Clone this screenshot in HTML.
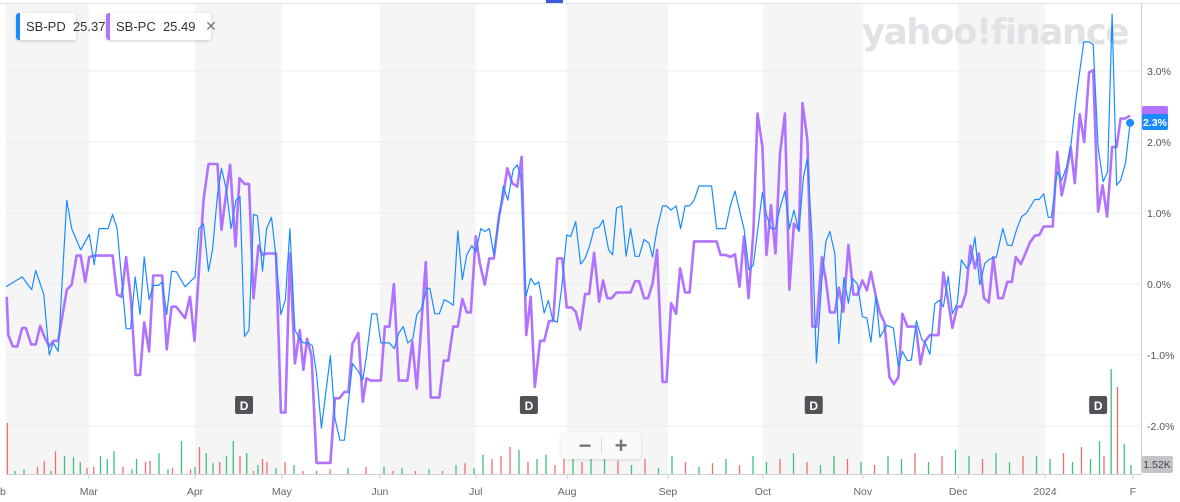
<!DOCTYPE html>
<html><head><meta charset="utf-8"><style>
html,body{margin:0;padding:0;background:#fff;width:1180px;height:502px;overflow:hidden;font-family:"Liberation Sans",sans-serif}
#wrap{position:relative;width:1180px;height:502px}
.chip{position:absolute;top:13px;height:27px;background:#fff;border-radius:3px;box-shadow:0 1px 3px rgba(0,0,0,.18);font-size:13px;color:#333;line-height:27px;padding-left:10px;padding-right:7px;white-space:nowrap}
.chip .bar{position:absolute;left:0;top:0;width:4px;height:27px;border-radius:3px 0 0 3px}
</style></head><body>
<div id="wrap">
<svg id="chart" width="1180" height="502" style="position:absolute;left:0;top:0"></svg>
<div class="chip" style="left:16px;width:43px"><span class="bar" style="background:#1a8cff"></span>SB-PD&nbsp; 25.37</div>
<div class="chip" style="left:106px;width:88px"><span class="bar" style="background:#b072ff"></span>SB-PC&nbsp; 25.49 <span style="color:#777;margin-left:6px;font-size:14px">✕</span></div>
<div style="position:absolute;left:561px;top:432px;width:80px;height:27px;background:#fafafa;border-radius:4px;box-shadow:0 1px 3px rgba(0,0,0,.12)">
<span style="position:absolute;left:10px;top:0;width:28px;line-height:27px;text-align:center;font-size:22px;font-weight:bold;color:#777">−</span>
<span style="position:absolute;left:40px;top:5px;width:1px;height:17px;background:#ddd"></span>
<span style="position:absolute;left:46px;top:0;width:28px;line-height:27px;text-align:center;font-size:22px;font-weight:bold;color:#777">+</span>
</div>
</div>
<script>
const tickLabels=["Mar","Apr","May","Jun","Jul","Aug","Sep","Oct","Nov","Dec","2024","F"];
const tickIdx=[18.4,42,61.3,83.1,104.4,124.7,147.1,168.2,190.4,211.6,230.9,250.4];
const yTicks=[-2,-1,0,1,2,3];
const divIdx=[52.9,116.2,179.5,242.7];
const pdIdx=[0,3.6,5.7,6.6,8.4,9.6,10.5,11.6,13.5,14.6,16.6,18.5,19.6,20.7,22.7,23.7,24.7,26.7,27.7,28.7,29.8,30.7,31.8,32.7,33.9,34.7,35.7,36.8,37.9,39.8,42,42.9,43.9,45,45.9,47,47.9,49,50,51.1,52,53,54,55,55.9,57,57.9,59,60,61.1,62.1,63.1,64.2,
65.3,66.1,67.2,68.1,69.0,70.1,72.1,73.1,74.2,75.2,77.0,78.3,79.3,80.1,81.3,82.4,83.3,85.2,86.3,87.3,88.3,89.3,90.4,91.3,92.4,93.5,94.2,95.3,96.3,97.4,98.3,99.4,100.4,101.4,102.4,103.5,104.4,105.5,106.4,107.4,108.4,109.6,110.5,111.5,112.7,113.6,114.4,115.5,116.6,117.5,118.4,119.6,120.5,121.5,122.5,123.5,124.6,125.5,126.6,127.7,128.7,129.8,130.7,131.8,
132.7,133.9,134.8,135.7,136.8,137.8,138.8,139.8,140.7,141.8,142.9,143.7,144.7,145.9,146.8,147.8,148.9,149.9,150.9,151.9,152.9,154,156.8,157.9,159.9,161,162,163,164,165.1,166.1,168.1,169,170,171,172,173.1,174.1,175.1,176.2,177.2,178.1,179.2,180.1,181.3,182.2,183.1,184.2,185.1,186.2,187.2,188.1,189.2,190.3,191.3,192.2,193.3,
194.2,195.7,197.2,198.3,199.2,200.3,201.2,202.3,203.5,204.3,205.3,206.4,207.4,208.3,209.4,210.3,211.4,212.3,213.5,214.3,215.3,216.4,217.5,218.6,220.1,221.5,222.5,223.5,224.6,225.7,226.8,228.6,229.6,230.6,231.6,232.3,233.6,234.6,235.7,236.6,237.9,239.5,240.7,241.6,242.7,243.8,244.8,245.8,246.8,247.7,248.8,249.8];
const pdVals=[-0.04,0.10,-0.08,0.19,-0.15,-1.0,-0.83,-0.95,1.18,0.78,0.48,0.70,0.27,0.78,0.78,0.98,0.78,-0.63,-0.63,0.10,-0.43,0.38,-0.22,-0.02,-0.02,0.03,-0.43,0.18,0.17,-0.04,0.10,0.78,0.85,0.18,0.48,1.26,1.63,1.32,0.78,1.18,1.23,-0.74,-0.65,0.98,0.96,0.18,0.78,0.94,0.38,-0.43,-0.22,0.78,-0.65,
-0.77,-0.83,-0.83,-0.87,-1.26,-2.03,-1.01,-1.89,-2.20,-2.20,-1.12,-1.23,-1.35,-1.02,-0.42,-0.42,-0.83,-0.83,-0.91,-0.69,-0.60,-0.83,-0.77,-0.43,-0.34,-0.06,-0.06,-0.42,-0.42,-0.22,-0.25,-0.30,0.75,0.06,0.41,0.54,0.45,0.78,0.74,0.78,0.41,0.95,1.38,1.18,1.61,1.68,1.51,-0.18,0.08,-0.01,0.03,-0.41,-0.23,-0.51,-0.54,-0.04,0.69,0.67,0.88,0.28,0.36,0.56,0.78,0.80,
0.90,0.48,0.41,1.07,1.10,0.39,0.78,0.39,0.39,0.63,0.57,0.38,0.78,1.10,1.10,1.04,1.10,0.78,1.10,1.10,1.18,1.38,1.38,0.78,0.78,1.11,1.31,1.04,0.78,0.20,0.27,1.29,0.97,0.78,0.78,1.07,1.31,0.78,1.04,0.74,1.50,1.77,0.57,-1.11,0.07,0.60,0.74,0.42,-0.84,0.09,-0.27,0.08,0.00,-0.46,-0.48,-0.82,-0.17,
-0.75,-0.58,-0.62,-1.17,-0.95,-1.08,-1.07,-0.52,-0.78,-0.83,-0.99,-0.28,-0.23,-0.32,0.11,-0.42,-0.27,0.34,0.22,0.29,0.66,-0.01,0.29,0.35,0.38,0.78,0.55,0.54,0.77,0.95,1.00,1.19,1.19,1.27,0.94,0.94,1.58,1.46,1.65,1.93,2.66,3.41,3.41,3.37,1.93,1.44,1.58,3.80,1.39,1.46,1.71,2.27];
const pcIdx=[0.15,0.5,1.5,2.5,3.6,4.4,5.6,6.6,7.6,8.5,9.6,10.5,11.6,13.5,14.6,15.7,16.6,17.6,18.5,19.6,23.7,24.7,25.7,26.7,27.8,28.8,29.8,30.7,31.8,32.7,34.7,35.7,36.8,37.8,39.8,40.9,41.9,42.9,43.9,45,47,47.9,49,49.8,51,51.9,53,54,55,56.1,57,57.9,60,61.1,62.1,63.1,64.2,
65.3,66.1,66.9,67.9,69.0,72.1,73.1,74.1,75.2,76.1,77.0,78.3,79.3,80.1,81.1,83.3,84.2,85.2,86.2,87.3,89.2,90.3,91.3,93.3,94.4,96.3,97.3,98.3,99.4,100.4,101.4,102.4,103.3,104.4,105.3,106.4,107.4,108.4,109.6,110.5,111.4,112.5,113.6,114.6,115.6,116.6,117.5,118.7,119.6,120.7,121.6,122.5,123.6,124.6,125.7,126.6,127.6,128.7,129.6,130.7,131.8,
132.7,133.6,134.6,135.7,138.8,139.8,140.7,141.8,142.7,143.7,144.7,145.9,146.8,147.8,148.9,149.8,150.9,151.9,152.9,157.9,158.8,159.9,161,162,163,164,165,166.1,167,168.1,169,170,171,172,173.1,174.1,175.1,176.2,177,178.1,179.2,180.1,181.3,182.2,183.1,184.2,185.1,186.1,187.2,188.3,189.2,190.3,191.3,192.2,193.3,
194.2,195.2,196.3,197.3,198.3,199.2,200.3,202.2,203.2,204.2,205.3,207.2,208.3,209.4,210.3,211.4,212.3,213.3,214.3,215.3,216.2,217.3,218.4,219.4,220.5,221.5,222.5,223.5,224.4,225.5,226.4,227.5,228.6,229.6,230.6,232.6,233.6,234.6,235.5,236.6,237.5,238.6,239.6,240.7,241.6,242.7,243.7,244.7,245.8,246.8,247.7,248.6,249.8];
const pcVals=[-0.18,-0.72,-0.88,-0.88,-0.62,-0.62,-0.85,-0.85,-0.59,-0.74,-0.88,-0.80,-0.80,-0.08,-0.01,0.40,0.40,0.03,0.38,0.40,0.40,-0.15,-0.18,0.38,-0.25,-1.28,-1.28,-0.54,-0.95,0.12,0.12,-0.92,-0.32,-0.32,-0.48,-0.18,-0.80,0.20,1.18,1.69,1.69,0.76,1.32,1.68,0.53,1.49,1.41,1.41,-0.20,0.54,0.41,0.43,0.43,-1.81,-1.81,0.43,-1.12,
-0.65,-1.21,-0.77,-1.02,-2.52,-2.52,-1.61,-1.61,-1.52,-1.52,-0.84,-0.69,-1.66,-1.33,-1.36,-1.36,-0.60,-0.60,0.00,-1.36,-1.36,-0.81,-1.47,0.31,-1.60,-1.60,-1.08,-1.08,-0.60,-0.60,-0.21,-0.40,-0.40,0.67,0.29,-0.01,0.36,0.36,0.97,1.25,1.63,1.42,1.37,1.79,-0.72,-0.18,-1.45,-0.80,-0.80,-0.52,-0.52,0.36,0.36,-0.33,-0.33,-0.39,-0.64,-0.14,-0.14,0.44,-0.25,
0.05,-0.20,-0.20,-0.12,-0.12,0.04,0.04,-0.20,-0.20,0.01,0.48,-1.38,-1.38,-0.27,-0.42,0.22,-0.12,-0.12,0.60,0.60,0.41,0.41,0.38,0.42,-0.04,0.67,-0.20,0.74,2.40,1.93,0.41,1.11,0.43,1.84,2.40,-0.08,0.85,0.76,2.55,2.03,-0.60,-0.60,0.38,0.05,-0.40,-0.40,-0.05,-0.39,0.55,-0.15,-0.15,0.05,-0.09,0.17,-0.18,
-0.41,-0.54,-1.31,-1.41,-1.31,-0.42,-0.60,-0.60,-1.13,-0.81,-0.72,-0.72,0.16,-0.25,-0.62,-0.32,-0.32,-0.13,0.54,0.22,0.43,-0.20,-0.26,0.38,-0.20,-0.20,0.03,0.03,0.38,0.28,0.41,0.58,0.68,0.69,0.81,0.81,1.86,1.25,1.51,1.93,1.42,2.39,2.00,2.98,3.01,1.02,1.39,0.95,1.93,1.93,2.33,2.33,2.37];
const volIdx=[0.3,2,4,7,8.5,10,11,13,15,16.5,18,19.5,21,22.5,24,26,28,29,31,32,34,36,37,39,41,42,43,44.5,46,47.5,49,50.5,52,53.5,55,56,57,58,60,62,64,66,69,72,76,80,84,86,88,91,94,97,100,102,104,106,108,110,112,114,116,118,120,122,124,126,128,130,133,136,139,142,145,148,151,154,157,160,163,166,169,172,175,178,181,184,187,190,193,196,199,202,205,208,211,214,217,220,223,226,229,232,235,237,239,241,243,244,245.6,247,248.5,250];
const volVals=[0.85,0.05,0.08,0.12,0.22,0.05,0.38,0.3,0.28,0.2,0.1,0.12,0.3,0.25,0.38,0.12,0.08,0.25,0.2,0.22,0.35,0.08,0.1,0.55,0.08,0.12,0.45,0.35,0.18,0.2,0.3,0.55,0.3,0.35,0.05,0.15,0.25,0.2,0.1,0.2,0.15,0.05,0.05,0.08,0.1,0.12,0.12,0.05,0.1,0.05,0.08,0.05,0.15,0.18,0.1,0.32,0.25,0.3,0.45,0.4,0.2,0.25,0.32,0.15,0.28,0.25,0.2,0.45,0.3,0.22,0.15,0.25,0.1,0.3,0.2,0.12,0.18,0.25,0.15,0.3,0.2,0.25,0.35,0.2,0.15,0.3,0.25,0.2,0.15,0.3,0.25,0.35,0.2,0.3,0.4,0.3,0.25,0.35,0.2,0.3,0.3,0.25,0.35,0.2,0.45,0.25,0.55,0.3,1.75,1.45,0.5,0.15];
const volUp=[0,1,1,0,0,1,0,1,1,1,0,0,1,1,1,0,1,1,0,0,1,1,0,1,0,1,0,1,1,0,1,1,0,1,0,1,0,0,1,0,1,0,1,0,1,0,1,0,1,0,1,0,1,0,1,1,0,0,0,1,0,1,1,0,0,1,0,1,1,0,1,0,1,1,0,1,0,1,0,1,1,0,1,0,1,1,0,1,0,1,1,0,1,0,1,1,0,1,1,0,1,1,0,1,0,1,1,0,1,0,1,1];

const X0=6,DX=4.5,Y0=284,PY=71,VB=474,VH=60;
const xS=i=>X0+i*DX, yS=p=>Y0-PY*p, vS=v=>VB-VH*v;
const NS="http://www.w3.org/2000/svg";
const svg=document.getElementById('chart');
function mk(t,a,p){const e=document.createElementNS(NS,t);for(const k in a)e.setAttribute(k,a[k]);(p||svg).appendChild(e);return e;}
const bandStarts=[-0.1,tickIdx[1],tickIdx[3],tickIdx[5],tickIdx[7],tickIdx[9]];
const bandEnds=[tickIdx[0],tickIdx[2],tickIdx[4],tickIdx[6],tickIdx[8],tickIdx[10]];
for(let i=0;i<bandStarts.length;i++){const r=mk('rect',{x:xS(bandStarts[i]),y:4,width:xS(bandEnds[i])-xS(bandStarts[i]),height:VB-4,fill:'#f5f5f5'});

}
mk('line',{x1:0,y1:3.5,x2:1180,y2:3.5,stroke:'#e0e0e0'});
mk('rect',{x:546,y:0,width:17,height:3,fill:'#3c5be0'});
const wm=mk('text',{x:862,y:44,'font-size':'36','font-weight':'bold',fill:'#e1e2e5','font-family':'DejaVu Sans, sans-serif','letter-spacing':'-1.5',textLength:'266',lengthAdjust:'spacingAndGlyphs'});wm.textContent='yahoo!finance';


yTicks.forEach(t=>{mk('line',{x1:6,x2:1141,y1:yS(t),y2:yS(t),stroke:'#ececec'});
const tx=mk('text',{x:1147,y:yS(t)+4,'font-size':'10.5',fill:'#555'});tx.textContent=t.toFixed(1)+'%';

});
volIdx.forEach((d,i)=>{const b=mk('line',{x1:xS(d),x2:xS(d),y1:VB,y2:vS(volVals[i]),stroke:volUp[i]?'#3fbf80':'#f26d6d','stroke-width':1.3});

});
mk('line',{x1:6,x2:1141,y1:VB+0.5,y2:VB+0.5,stroke:'#cfcfcf'});
mk('line',{x1:1141.5,x2:1141.5,y1:4,y2:VB,stroke:'#cfcfcf'});
tickIdx.forEach((d,i)=>{mk('line',{x1:xS(d),x2:xS(d),y1:VB,y2:VB+5,stroke:'#cfcfcf'});
const t=mk('text',{x:xS(d),y:495,'font-size':'10.5',fill:'#666','text-anchor':'middle'});t.textContent=tickLabels[i];

});
const tb=mk('text',{x:0,y:495,'font-size':'10.5',fill:'#666'});tb.textContent='b';
divIdx.forEach(d=>{const g=mk('g',{});


mk('rect',{x:xS(d)-9,y:396,width:18,height:18,rx:2,fill:'#4f5358'},g);
const t=mk('text',{x:xS(d),y:410,'font-size':'12','font-weight':'bold',fill:'#fff','text-anchor':'middle'},g);t.textContent='D';});
function path(ix,vs){return ix.map((d,i)=>(i?'L':'M')+xS(d).toFixed(1)+','+yS(vs[i]).toFixed(1)).join('');}
const pc=mk('path',{d:path(pcIdx,pcVals),fill:'none',stroke:'#b072ff','stroke-width':2.6,'stroke-linejoin':'round'});


const pd=mk('path',{d:path(pdIdx,pdVals),fill:'none',stroke:'#1a8cff','stroke-width':1.2,'stroke-linejoin':'round'});


const lp=pdIdx.length-1;
mk('circle',{cx:xS(pdIdx[lp]),cy:yS(pdVals[lp]),r:4,fill:'#1a8cff'});
mk('rect',{x:1142,y:106,width:26,height:14,rx:2,fill:'#b072ff'});
mk('rect',{x:1142,y:114,width:26,height:16,rx:2,fill:'#1a8cff'});
const pt=mk('text',{x:1155,y:126,'font-size':'10.5','font-weight':'bold',fill:'#fff','text-anchor':'middle'});pt.textContent='2.3%';


mk('rect',{x:1142,y:456,width:31,height:17,rx:2,fill:'#c4c5c9'});
const vt=mk('text',{x:1157,y:468,'font-size':'10.5',fill:'#444','text-anchor':'middle'});vt.textContent='1.52K';


</script>
</body></html>
